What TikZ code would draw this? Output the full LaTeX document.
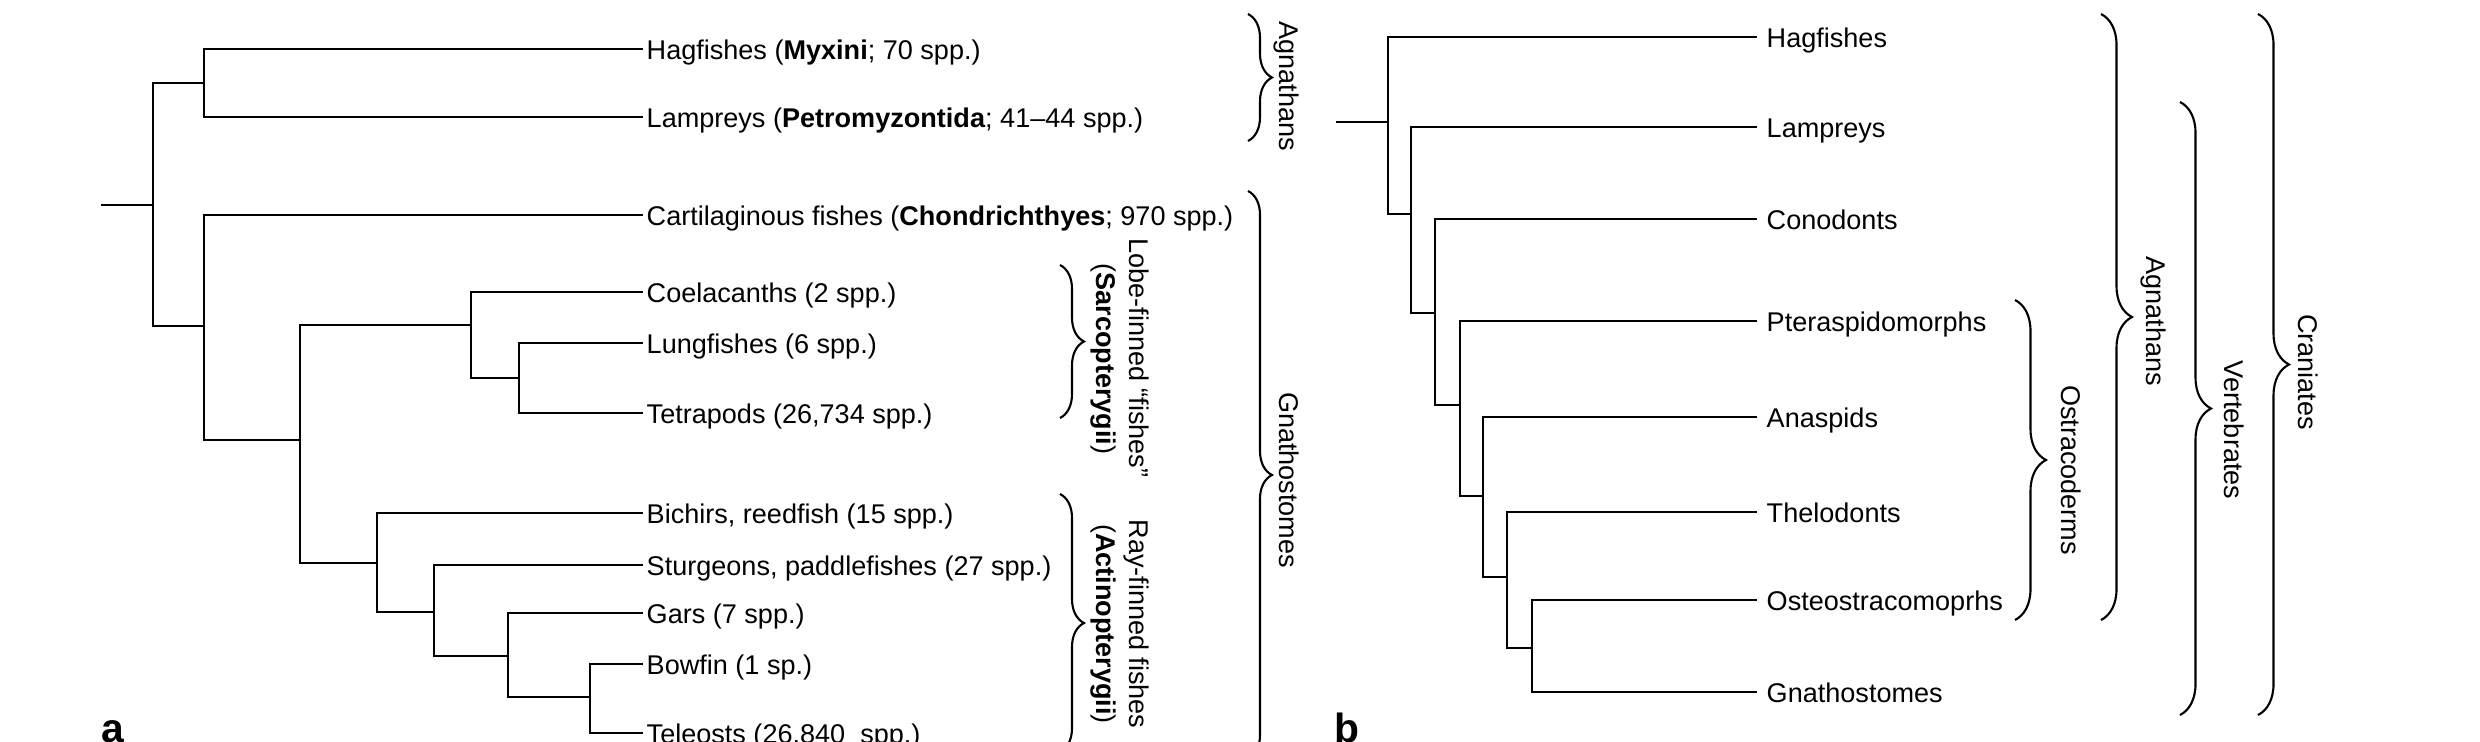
\documentclass[tikz,border=0pt]{standalone}
\usepackage{fontspec}
\setmainfont{Liberation Sans}
\usetikzlibrary{decorations.pathreplacing}
\begin{document}
\begin{tikzpicture}[x=0.1mm,y=-0.1mm,
  font=\fontsize{7.7pt}{9.4pt}\selectfont,
  treeA/.style={line width=0.75pt, line join=miter},
  treeB/.style={line width=0.65pt, line join=miter},
  leaf/.style={anchor=base west, inner sep=0pt},
  rlab/.style={rotate=-90, anchor=base, inner sep=0pt},
  braceA/.style={decorate, decoration={brace, amplitude=2.4mm}, line width=0.6pt},
  braceB/.style={decorate, decoration={brace, amplitude=3.1mm}, line width=0.6pt},
  panel/.style={anchor=base west, inner sep=0pt, font=\fontsize{11.6pt}{14pt}\selectfont\bfseries}]
\useasboundingbox (0,0) rectangle (2480,741);

% ---------------- panel a ----------------
\coordinate (aR0) at (101,205);
\coordinate (aR)  at (153,205);
\coordinate (aAg) at (204,83);
\coordinate (aGn) at (204,326);
\coordinate (aOs) at (300,440);
\coordinate (aSa) at (471,325);
\coordinate (aRh) at (519,378);
\coordinate (aAc) at (377,563);
\coordinate (aAp) at (434,612);
\coordinate (aNp) at (508,656);
\coordinate (aHt) at (590,697);

\coordinate (aHag) at (643,49);
\coordinate (aLam) at (643,117);
\coordinate (aCar) at (643,215);
\coordinate (aCoe) at (643,292);
\coordinate (aLun) at (643,343);
\coordinate (aTet) at (643,413);
\coordinate (aBic) at (643,513);
\coordinate (aStu) at (643,565);
\coordinate (aGar) at (643,613);
\coordinate (aBow) at (643,664);
\coordinate (aTel) at (643,733);

\draw[treeA] (aR0) -- (aR);
\draw[treeA] (aR) |- (aAg);
\draw[treeA] (aR) |- (aGn);
\draw[treeA] (aAg) |- (aHag);
\draw[treeA] (aAg) |- (aLam);
\draw[treeA] (aGn) |- (aCar);
\draw[treeA] (aGn) |- (aOs);
\draw[treeA] (aOs) |- (aSa);
\draw[treeA] (aOs) |- (aAc);
\draw[treeA] (aSa) |- (aCoe);
\draw[treeA] (aSa) |- (aRh);
\draw[treeA] (aRh) |- (aLun);
\draw[treeA] (aRh) |- (aTet);
\draw[treeA] (aAc) |- (aBic);
\draw[treeA] (aAc) |- (aAp);
\draw[treeA] (aAp) |- (aStu);
\draw[treeA] (aAp) |- (aNp);
\draw[treeA] (aNp) |- (aGar);
\draw[treeA] (aNp) |- (aHt);
\draw[treeA] (aHt) |- (aBow);
\draw[treeA] (aHt) |- (aTel);

\node (tHag) [leaf] at (646,59.5) {Hagfishes (\textbf{Myxini}; 70 spp.)};
\node (tLam) [leaf] at (646,127.5) {Lampreys (\textbf{Petromyzontida}; 41–44 spp.)};
\node (tCar) [leaf] at (646,225.5) {Cartilaginous fishes (\textbf{Chondrichthyes}; 970 spp.)};
\node (tCoe) [leaf] at (646,302.5) {Coelacanths (2 spp.)};
\node (tLun) [leaf] at (646,353.5) {Lungfishes (6 spp.)};
\node (tTet) [leaf] at (646,423.5) {Tetrapods (26,734 spp.)};
\node (tBic) [leaf] at (646,523.5) {Bichirs, reedfish (15 spp.)};
\node (tStu) [leaf] at (646,575.5) {Sturgeons, paddlefishes (27 spp.)};
\node (tGar) [leaf] at (646,623.5) {Gars (7 spp.)};
\node (tBow) [leaf] at (646,674.5) {Bowfin (1 sp.)};
\node (tTel) [leaf] at (646,743.5) {Teleosts (26,840\ \ spp.)};

\draw[braceA] (1248,14) -- (1248,141);
\draw[braceA] (1248,191) -- (1248,759);
\draw[braceA] (1060,265) -- (1060,418);
\draw[braceA] (1060,494) -- (1060,752);

\node (lAgA) [rlab] at (1279,86) {Agnathans};
\node (lGnA) [rlab] at (1279,480) {Gnathostomes};
\node (lLob) [rlab] at (1129,358) {Lobe-finned “fishes”};
\node (lSar) [rlab] at (1096,359) {(\textbf{Sarcopterygii})};
\node (lRay) [rlab] at (1129,624) {Ray-finned fishes};
\node (lAct) [rlab] at (1096,624) {(\textbf{Actinopterygii})};

\node (pa) [panel] at (101,742) {a};

% ---------------- panel b ----------------
\coordinate (bR0) at (1336,122);
\coordinate (bR)  at (1388,122);
\coordinate (bN2) at (1411,214);
\coordinate (bN3) at (1435,313);
\coordinate (bN4) at (1460,405);
\coordinate (bN5) at (1483,496);
\coordinate (bN6) at (1507,577);
\coordinate (bN7) at (1532,648);

\coordinate (bHag) at (1757,37);
\coordinate (bLam) at (1757,127);
\coordinate (bCon) at (1757,219);
\coordinate (bPte) at (1757,321);
\coordinate (bAna) at (1757,417);
\coordinate (bThe) at (1757,512);
\coordinate (bOst) at (1757,600);
\coordinate (bGna) at (1757,692);

\draw[treeB] (bR0) -- (bR);
\draw[treeB] (bR) |- (bHag);
\draw[treeB] (bR) |- (bN2);
\draw[treeB] (bN2) |- (bLam);
\draw[treeB] (bN2) |- (bN3);
\draw[treeB] (bN3) |- (bCon);
\draw[treeB] (bN3) |- (bN4);
\draw[treeB] (bN4) |- (bPte);
\draw[treeB] (bN4) |- (bN5);
\draw[treeB] (bN5) |- (bAna);
\draw[treeB] (bN5) |- (bN6);
\draw[treeB] (bN6) |- (bThe);
\draw[treeB] (bN6) |- (bN7);
\draw[treeB] (bN7) |- (bOst);
\draw[treeB] (bN7) |- (bGna);

\node (uHag) [leaf] at (1766,47.5) {Hagfishes};
\node (uLam) [leaf] at (1766,137.5) {Lampreys};
\node (uCon) [leaf] at (1766,229.5) {Conodonts};
\node (uPte) [leaf] at (1766,331.5) {Pteraspidomorphs};
\node (uAna) [leaf] at (1766,427.5) {Anaspids};
\node (uThe) [leaf] at (1766,522.5) {Thelodonts};
\node (uOst) [leaf] at (1766,610.5) {Osteostracomoprhs};
\node (uGna) [leaf] at (1766,702.5) {Gnathostomes};

\draw[braceB] (2015,300) -- (2015,620);
\draw[braceB] (2101,14) -- (2101,620);
\draw[braceB] (2180,102) -- (2180,715);
\draw[braceB] (2258,14) -- (2258,715);

\node (lOst) [rlab] at (2061,470) {Ostracoderms};
\node (lAgB) [rlab] at (2146,321) {Agnathans};
\node (lVer) [rlab] at (2224,430) {Vertebrates};
\node (lCra) [rlab] at (2298,372) {Craniates};

\node (pb) [panel] at (1334,742) {b};
\end{tikzpicture}
\end{document}
